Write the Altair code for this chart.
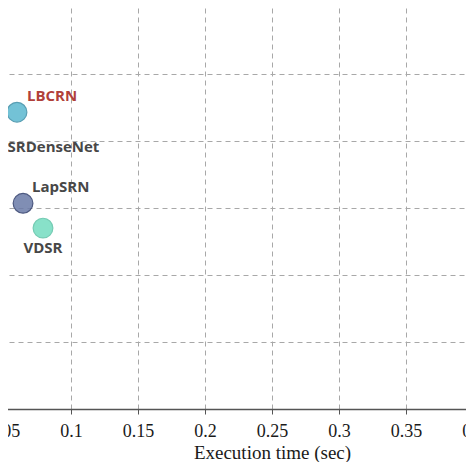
import altair as alt
import pandas as pd

models = ["LBCRN", "SRDenseNet", "LapSRN", "VDSR"]
exec_time = [0.0597, 0.0444, 0.0642, 0.0791]
psnr = [37.443, 37.404, 37.307, 37.270]
fills = ["#5bb8d0", "#f07a7a", "#6b7ba8", "#74dcc0"]
strokes = ["#3c8ea6", "#d25a5a", "#2f3d6b", "#5cc2a6"]

df = pd.DataFrame({"model": models, "time": exec_time, "psnr": psnr,
                   "fill": fills, "stroke": strokes})

x_enc = alt.X("time:Q", title="Execution time (sec)",
              scale=alt.Scale(domain=[0, 0.5], nice=False, zero=False),
              axis=alt.Axis(values=[0, 0.05, 0.1, 0.15, 0.2, 0.25, 0.3, 0.35, 0.4, 0.45, 0.5],
                            format="~g", labelFont="Liberation Serif", labelFontSize=18,
                            labelColor="#1a1a1a", titleFont="Liberation Serif", titleFontSize=19,
                            titleFontWeight="normal", titleColor="#1a1a1a",
                            titleY=49, titleBaseline="alphabetic",
                            domainColor="#555", domainWidth=1.6, tickColor="#555",
                            tickSize=5, labelPadding=8,
                            grid=True, gridDash=[5, 4], gridColor="#a8a8a8", gridWidth=1))
y_enc = alt.Y("psnr:Q", title="PSNR (dB)",
              scale=alt.Scale(domain=[37.0, 37.8], nice=False, zero=False),
              axis=alt.Axis(values=[37.0, 37.1, 37.2, 37.3, 37.4, 37.5, 37.6, 37.7, 37.8],
                            labels=False, ticks=False, domain=False, title=None,
                            grid=True, gridDash=[5, 4], gridColor="#a8a8a8", gridWidth=1))

base = alt.Chart(df)

points = base.mark_circle(size=390, opacity=0.85, strokeWidth=1.2).encode(
    x=x_enc, y=y_enc,
    fill=alt.Fill("fill:N", scale=None),
    stroke=alt.Stroke("stroke:N", scale=None),
)

def label(name, color, align, dx, dy):
    return base.transform_filter(alt.datum.model == name).mark_text(
        align=align, baseline="middle", dx=dx, dy=dy, font="Open Sans",
        fontWeight="bold", fontSize=15, color=color
    ).encode(x="time:Q", y="psnr:Q", text="model:N")

chart = alt.layer(
    points,
    label("LBCRN", "#b0403a", "left", 10, -16),
    label("SRDenseNet", "#474747", "left", 11, 9),
    label("LapSRN", "#474747", "left", 9, -16),
    label("VDSR", "#474747", "center", 0, 20),
).properties(
    width=670, height=536,
    autosize=alt.AutoSizeParams(type="none"),
    padding={"left": -71, "top": -135, "right": -141, "bottom": 53},
).configure_view(stroke=None)

chart.save("out.html", embed_options={"renderer": "svg", "actions": False})
